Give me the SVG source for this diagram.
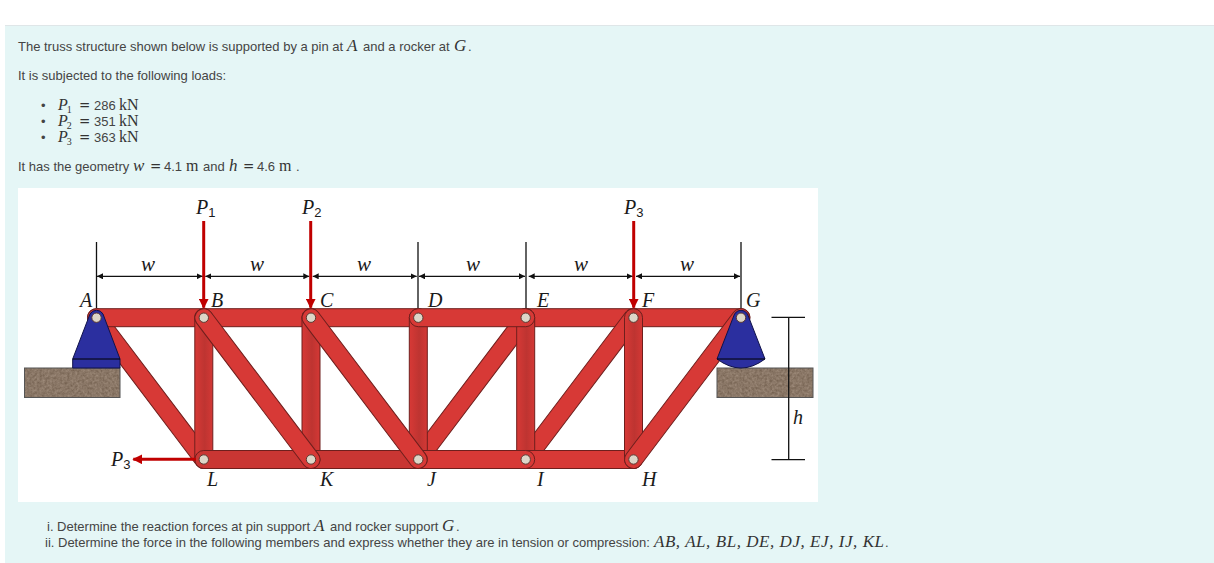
<svg xmlns="http://www.w3.org/2000/svg" width="1214" height="563" viewBox="0 0 1214 563">
<style>
text{font-family:"Liberation Sans",Arial,sans-serif;font-size:13px;fill:#444}
.mi{font-family:"Liberation Serif","Times New Roman",serif;font-style:italic;font-size:17px;fill:#333}
.mip{font-family:"Liberation Serif","Times New Roman",serif;font-style:italic;font-size:16px;fill:#333}
.mr{font-family:"Liberation Serif","Times New Roman",serif;font-size:16px;fill:#333}
.eq{font-family:"DejaVu Sans",sans-serif;font-size:13.500px;fill:#333}
.ms{font-family:"Liberation Serif","Times New Roman",serif;font-style:normal;font-size:10px;fill:#333}
.l{font-family:"Liberation Serif","Times New Roman",serif;font-style:italic;font-size:20px;fill:#1a1a1a}
.lw{font-family:"Liberation Serif","Times New Roman",serif;font-style:italic;font-size:21px;fill:#1a1a1a;text-anchor:middle}
.sub{font-family:"Liberation Sans",Arial,sans-serif;font-style:normal;font-size:13px;fill:#1a1a1a}
.m{fill:#d73936;stroke:#6e1f1d;stroke-width:1}
.v{fill:url(#vg);stroke:#6e1f1d;stroke-width:1}
.c{fill:#c93633;stroke:#6e1f1d;stroke-width:1}
.pin{fill:#ddd6c8;stroke:#5c3a32;stroke-width:1}
.blue{fill:#2b2f9f;stroke:#10124a;stroke-width:1}
.dim{stroke:#111;stroke-width:1.3;fill:none}
.dima{stroke:#111;stroke-width:1.2;fill:none;marker-start:url(#ah);marker-end:url(#ah)}
.load{stroke:#c00000;stroke-width:3;fill:none;marker-end:url(#rh)}
.g{filter:url(#soil);fill:#8a7566}
.ge{fill:none;stroke:#555;stroke-width:1}
</style>
<defs>
<linearGradient id="vg" x1="0" x2="1" y1="0" y2="0"><stop offset="0" stop-color="#d73936"/><stop offset=".55" stop-color="#be3431"/><stop offset="1" stop-color="#d43835"/></linearGradient>
<marker id="ah" viewBox="0 0 6 6" refX="6" refY="3" markerWidth="6" markerHeight="6" orient="auto-start-reverse" markerUnits="userSpaceOnUse"><path d="M0 0L6 3L0 6Z" fill="#111"/></marker>
<marker id="rh" viewBox="0 0 10 10" refX="9" refY="5" markerWidth="10" markerHeight="10" orient="auto" markerUnits="userSpaceOnUse"><path d="M0 0L10 5L0 10Z" fill="#c00000"/></marker>
<filter id="soil" x="0" y="0" width="1" height="1" color-interpolation-filters="sRGB"><feTurbulence type="fractalNoise" baseFrequency=".4" numOctaves="3" seed="4" result="n"/><feColorMatrix in="n" type="matrix" values=".22 .0 0 0 .43  .22 0 0 0 .355  .22 0 0 0 .29  0 0 0 0 1" result="c"/><feComposite in="c" in2="SourceAlpha" operator="in"/></filter>
</defs>
<rect width="1214" height="563" fill="#fff"/>
<rect x="5" y="26" width="1209" height="537" fill="#e5f6f6"/>
<rect x="5" y="25" width="1209" height="1" fill="#dfe6e8"/>
<rect x="18" y="188" width="800" height="314" fill="#fff"/>

<g id="intro">
<text x="18" y="51">The truss structure shown below is supported by a pin at</text>
<text class="mi" x="347" y="51">A</text><text x="363" y="51">and a rocker at</text><text class="mi" x="454" y="51">G</text><text x="468" y="51">.</text>
<text x="18" y="80">It is subjected to the following loads:</text>
<text x="41" y="110">•</text><text class="mip" x="58" y="110">P<tspan class="ms" dx="-1" dy="3">1</tspan></text><text class="eq" x="79" y="110">=</text><text x="94" y="110">286</text><text class="mr" x="119" y="110">kN</text>
<text x="41" y="126">•</text><text class="mip" x="58" y="126">P<tspan class="ms" dx="-1" dy="3">2</tspan></text><text class="eq" x="79" y="126">=</text><text x="94" y="126">351</text><text class="mr" x="119" y="126">kN</text>
<text x="41" y="142">•</text><text class="mip" x="58" y="142">P<tspan class="ms" dx="-1" dy="3">3</tspan></text><text class="eq" x="79" y="142">=</text><text x="94" y="142">363</text><text class="mr" x="119" y="142">kN</text>
<text x="18" y="171">It has the geometry</text><text class="mi" x="133" y="171">w</text><text class="eq" x="150" y="171">=</text><text x="164" y="171">4.1</text><text class="mr" x="186" y="171">m</text><text x="203" y="171">and</text><text class="mi" x="229" y="171">h</text><text class="eq" x="243" y="171">=</text><text x="257" y="171">4.6</text><text class="mr" x="279" y="171">m</text><text x="296" y="171">.</text>
</g>

<g id="ground-A"><rect class="g" x="24.500" y="368" width="95.500" height="29.500"/><rect class="ge" x="24.500" y="368" width="95.500" height="29.500"/></g>
<g id="ground-G"><rect class="g" x="717" y="368" width="96" height="29.500"/><rect class="ge" x="717" y="368" width="96" height="29.500"/></g>

<g id="members-back">
<rect class="m" x="-9" y="-9" width="195.800" height="18" rx="9" transform="translate(96.500 317.700) rotate(52.900)"/>
<rect class="m" x="87.500" y="308.700" width="125" height="18" rx="9"/>
<rect class="m" x="194.800" y="308.700" width="125" height="18" rx="9"/>
<rect class="m" x="302" y="308.700" width="125" height="18" rx="9"/>
<rect class="m" x="516.700" y="308.700" width="126" height="18" rx="9"/>
<rect class="m" x="624.500" y="308.700" width="125.500" height="18" rx="9"/>
<rect class="m" x="-9" y="-9" width="195.800" height="18" rx="9" transform="translate(418.300 459.500) rotate(-52.900)"/>
<rect class="m" x="-9" y="-9" width="195.800" height="18" rx="9" transform="translate(525.700 459.500) rotate(-52.900)"/>
</g>
<g id="members-vertical">
<rect class="v" x="194.800" y="308.700" width="18" height="159.800" rx="9"/>
<rect class="v" x="302" y="308.700" width="18" height="159.800" rx="9"/>
<rect class="v" x="409.300" y="308.700" width="18" height="159.800" rx="9"/>
<rect class="v" x="516.700" y="308.700" width="18" height="159.800" rx="9"/>
</g>
<g id="members-bottom">
<rect class="m" x="516.700" y="450.500" width="125.800" height="18" rx="9"/>
<rect class="m" x="409.300" y="450.500" width="125.400" height="18" rx="9"/>
<rect class="c" x="302" y="450.500" width="125.300" height="18" rx="9"/>
<rect class="c" x="194.800" y="450.500" width="125.200" height="18" rx="9"/>
</g>
<g id="members-front">
<rect class="m" x="409.300" y="308.700" width="125.400" height="18" rx="9"/>
<rect class="v" x="624.500" y="308.700" width="18" height="159.800" rx="9"/>
<rect class="m" x="-9" y="-9" width="195.900" height="18" rx="9" transform="translate(633.500 459.500) rotate(-52.900)"/>
<rect class="m" x="-9" y="-9" width="195.800" height="18" rx="9" transform="translate(203.800 317.700) rotate(52.900)"/>
<rect class="m" x="-9" y="-9" width="195.800" height="18" rx="9" transform="translate(311 317.700) rotate(52.900)"/>
</g>

<g id="support-A">
<path class="blue" d="M72.700 359L90 314A7.500 7.500 0 0 1 103 314L120 359V368H72.700Z"/>
<path d="M72.700 359H120" stroke="#000" stroke-width="1" fill="none"/>
</g>
<g id="support-G">
<path class="blue" d="M717 359L734.500 314A7.500 7.500 0 0 1 747.500 314L765 359Q741 377 717 359Z"/>
<path d="M717 359H765" stroke="#000" stroke-width="1" fill="none"/>
</g>
<g id="pins">
<circle class="pin" cx="96.500" cy="317.700" r="4.700"/><circle class="pin" cx="203.800" cy="317.700" r="4.700"/><circle class="pin" cx="311" cy="317.700" r="4.700"/><circle class="pin" cx="418.300" cy="317.700" r="4.700"/><circle class="pin" cx="525.700" cy="317.700" r="4.700"/><circle class="pin" cx="633.500" cy="317.700" r="4.700"/><circle class="pin" cx="741" cy="317.700" r="4.700"/>
<circle class="pin" cx="203.800" cy="459.500" r="4.700"/><circle class="pin" cx="311" cy="459.500" r="4.700"/><circle class="pin" cx="418.300" cy="459.500" r="4.700"/><circle class="pin" cx="525.700" cy="459.500" r="4.700"/><circle class="pin" cx="633.500" cy="459.500" r="4.700"/>
</g>

<g id="connectors">
<path class="dim" d="M96.500 242V308M418 242V308M526 242V308M741 242V308"/>
<path class="dima" d="M97 276.300H202.700"/>
<path class="dima" d="M205.300 276.300H309.300"/>
<path class="dima" d="M312.700 276.300H416.700"/>
<path class="dima" d="M419 276.300H525"/>
<path class="dima" d="M528.700 276.300H632.700"/>
<path class="dima" d="M636 276.300H740"/>
<path class="dim" d="M771.500 317.300H805M771.500 459.700H805M788.700 317.300V459.700"/>
<path class="load" d="M203.700 221V307.700"/>
<path class="load" d="M310.700 221V307.700"/>
<path class="load" d="M633.700 221V307.700"/>
<path class="load" d="M196 459.300H133.300"/>
</g>

<g id="labels">
<text class="l" x="196" y="214">P<tspan class="sub" dy="3">1</tspan></text>
<text class="l" x="302" y="214">P<tspan class="sub" dy="3">2</tspan></text>
<text class="l" x="624" y="214">P<tspan class="sub" dy="3">3</tspan></text>
<text class="l" x="111" y="466">P<tspan class="sub" dy="3">3</tspan></text>
<text class="lw" x="148" y="271">w</text><text class="lw" x="257" y="271">w</text><text class="lw" x="364" y="271">w</text><text class="lw" x="473" y="271">w</text><text class="lw" x="581" y="271">w</text><text class="lw" x="687" y="271">w</text>
<text class="l" x="80" y="307">A</text><text class="l" x="211" y="307">B</text><text class="l" x="320" y="307">C</text><text class="l" x="428" y="307">D</text><text class="l" x="537" y="307">E</text><text class="l" x="642" y="307">F</text><text class="l" x="746" y="307">G</text>
<text class="l" x="207" y="486">L</text><text class="l" x="320" y="486">K</text><text class="l" x="427" y="486">J</text><text class="l" x="537" y="486">I</text><text class="l" x="642" y="486">H</text>
<text class="l" x="793" y="424">h</text>
</g>

<g id="questions">
<text x="47" y="531">i. Determine the reaction forces at pin support</text><text class="mi" x="314" y="531">A</text><text x="330" y="531">and rocker support</text><text class="mi" x="442" y="531">G</text><text x="456" y="531">.</text>
<text x="45" y="547">ii. Determine the force in the following members and express whether they are in tension or compression:</text><text class="mi" x="654" y="547" textLength="230">AB, AL, BL, DE, DJ, EJ, IJ, KL</text><text x="885" y="547">.</text>
</g>
</svg>
